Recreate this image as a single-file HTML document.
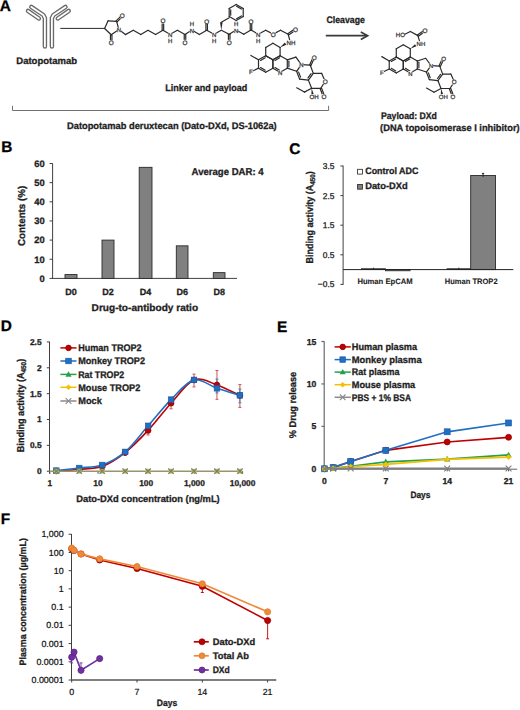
<!DOCTYPE html>
<html><head><meta charset="utf-8"><style>
html,body{margin:0;padding:0;background:#fff;}
svg{display:block;}
text{font-family:"Liberation Sans", sans-serif;text-rendering:geometricPrecision;}
</style></head><body>
<svg width="520" height="710" viewBox="0 0 520 710">
<rect width="520" height="710" fill="#fff"/>
<text x="-0.30" y="10.70" font-size="15.4" font-weight="bold" fill="#000" text-anchor="start" stroke="#000" stroke-width="0.3" >A</text>
<text x="1.20" y="152.10" font-size="15.4" font-weight="bold" fill="#000" text-anchor="start" stroke="#000" stroke-width="0.3" >B</text>
<text x="289.30" y="153.70" font-size="15.4" font-weight="bold" fill="#000" text-anchor="start" stroke="#000" stroke-width="0.3" >C</text>
<text x="0.80" y="331.30" font-size="15.4" font-weight="bold" fill="#000" text-anchor="start" stroke="#000" stroke-width="0.3" >D</text>
<text x="277.00" y="331.70" font-size="15.4" font-weight="bold" fill="#000" text-anchor="start" stroke="#000" stroke-width="0.3" >E</text>
<text x="0.80" y="523.80" font-size="15.4" font-weight="bold" fill="#000" text-anchor="start" stroke="#000" stroke-width="0.3" >F</text>
<path d="M31.30,6.90 L43.30,15.00 L44.90,18.00 L44.90,46.40" fill="none" stroke="#6a6a6a" stroke-width="4.5" stroke-linecap="round" stroke-linejoin="round"/>
<path d="M31.30,6.90 L43.30,15.00 L44.90,18.00 L44.90,46.40" fill="none" stroke="#fff" stroke-width="1.8" stroke-linecap="round" stroke-linejoin="round"/>
<path d="M65.50,6.90 L53.50,15.00 L51.90,18.00 L51.90,46.40" fill="none" stroke="#6a6a6a" stroke-width="4.5" stroke-linecap="round" stroke-linejoin="round"/>
<path d="M65.50,6.90 L53.50,15.00 L51.90,18.00 L51.90,46.40" fill="none" stroke="#fff" stroke-width="1.8" stroke-linecap="round" stroke-linejoin="round"/>
<path d="M28.00,10.90 L38.90,18.50" fill="none" stroke="#6a6a6a" stroke-width="4.5" stroke-linecap="round" stroke-linejoin="round"/>
<path d="M28.00,10.90 L38.90,18.50" fill="none" stroke="#fff" stroke-width="1.8" stroke-linecap="round" stroke-linejoin="round"/>
<path d="M68.70,10.90 L57.80,18.50" fill="none" stroke="#6a6a6a" stroke-width="4.5" stroke-linecap="round" stroke-linejoin="round"/>
<path d="M68.70,10.90 L57.80,18.50" fill="none" stroke="#fff" stroke-width="1.8" stroke-linecap="round" stroke-linejoin="round"/>
<line x1="60.30" y1="28.40" x2="104.60" y2="28.40" stroke="#2a2a2a" stroke-width="1.0" />
<line x1="104.60" y1="28.50" x2="108.10" y2="20.80" stroke="#2a2a2a" stroke-width="1.2" stroke-linecap="round"/>
<line x1="108.10" y1="20.80" x2="116.60" y2="21.40" stroke="#2a2a2a" stroke-width="1.2" stroke-linecap="round"/>
<line x1="116.60" y1="21.40" x2="118.90" y2="29.60" stroke="#2a2a2a" stroke-width="1.2" stroke-linecap="round"/>
<line x1="118.90" y1="29.60" x2="111.20" y2="34.80" stroke="#2a2a2a" stroke-width="1.2" stroke-linecap="round"/>
<line x1="111.20" y1="34.80" x2="104.60" y2="28.50" stroke="#2a2a2a" stroke-width="1.2" stroke-linecap="round"/>
<line x1="117.12" y1="21.94" x2="122.02" y2="17.14" stroke="#2a2a2a" stroke-width="1.2" stroke-linecap="round"/>
<line x1="116.08" y1="20.86" x2="120.98" y2="16.06" stroke="#2a2a2a" stroke-width="1.2" stroke-linecap="round"/>
<line x1="110.45" y1="34.80" x2="110.45" y2="40.80" stroke="#2a2a2a" stroke-width="1.2" stroke-linecap="round"/>
<line x1="111.95" y1="34.80" x2="111.95" y2="40.80" stroke="#2a2a2a" stroke-width="1.2" stroke-linecap="round"/>
<line x1="118.90" y1="29.60" x2="125.40" y2="34.60" stroke="#2a2a2a" stroke-width="1.2" stroke-linecap="round"/>
<line x1="125.40" y1="34.60" x2="133.30" y2="30.30" stroke="#2a2a2a" stroke-width="1.2" stroke-linecap="round"/>
<line x1="133.30" y1="30.30" x2="140.80" y2="34.50" stroke="#2a2a2a" stroke-width="1.2" stroke-linecap="round"/>
<line x1="140.80" y1="34.50" x2="148.00" y2="30.30" stroke="#2a2a2a" stroke-width="1.2" stroke-linecap="round"/>
<line x1="148.00" y1="30.30" x2="155.60" y2="34.50" stroke="#2a2a2a" stroke-width="1.2" stroke-linecap="round"/>
<line x1="155.60" y1="34.50" x2="162.90" y2="30.30" stroke="#2a2a2a" stroke-width="1.2" stroke-linecap="round"/>
<line x1="162.90" y1="30.30" x2="170.10" y2="34.30" stroke="#2a2a2a" stroke-width="1.2" stroke-linecap="round"/>
<line x1="170.10" y1="34.30" x2="177.40" y2="30.30" stroke="#2a2a2a" stroke-width="1.2" stroke-linecap="round"/>
<line x1="177.40" y1="30.30" x2="185.00" y2="34.50" stroke="#2a2a2a" stroke-width="1.2" stroke-linecap="round"/>
<line x1="185.00" y1="34.50" x2="191.80" y2="30.00" stroke="#2a2a2a" stroke-width="1.2" stroke-linecap="round"/>
<line x1="191.80" y1="30.00" x2="199.40" y2="34.50" stroke="#2a2a2a" stroke-width="1.2" stroke-linecap="round"/>
<line x1="199.40" y1="34.50" x2="206.70" y2="30.30" stroke="#2a2a2a" stroke-width="1.2" stroke-linecap="round"/>
<line x1="206.70" y1="30.30" x2="214.10" y2="34.20" stroke="#2a2a2a" stroke-width="1.2" stroke-linecap="round"/>
<line x1="214.10" y1="34.20" x2="221.30" y2="30.30" stroke="#2a2a2a" stroke-width="1.2" stroke-linecap="round"/>
<line x1="221.30" y1="30.30" x2="229.20" y2="34.30" stroke="#2a2a2a" stroke-width="1.2" stroke-linecap="round"/>
<line x1="229.20" y1="34.30" x2="236.10" y2="30.00" stroke="#2a2a2a" stroke-width="1.2" stroke-linecap="round"/>
<line x1="236.10" y1="30.00" x2="243.70" y2="34.30" stroke="#2a2a2a" stroke-width="1.2" stroke-linecap="round"/>
<line x1="243.70" y1="34.30" x2="251.00" y2="30.00" stroke="#2a2a2a" stroke-width="1.2" stroke-linecap="round"/>
<line x1="251.00" y1="30.00" x2="258.20" y2="34.20" stroke="#2a2a2a" stroke-width="1.2" stroke-linecap="round"/>
<line x1="258.20" y1="34.20" x2="265.70" y2="30.20" stroke="#2a2a2a" stroke-width="1.2" stroke-linecap="round"/>
<line x1="265.70" y1="30.20" x2="273.20" y2="34.10" stroke="#2a2a2a" stroke-width="1.2" stroke-linecap="round"/>
<line x1="273.20" y1="34.10" x2="280.50" y2="30.20" stroke="#2a2a2a" stroke-width="1.2" stroke-linecap="round"/>
<line x1="280.50" y1="30.20" x2="288.20" y2="34.30" stroke="#2a2a2a" stroke-width="1.2" stroke-linecap="round"/>
<line x1="163.65" y1="30.30" x2="163.65" y2="22.40" stroke="#2a2a2a" stroke-width="1.2" stroke-linecap="round"/>
<line x1="162.15" y1="30.30" x2="162.15" y2="22.40" stroke="#2a2a2a" stroke-width="1.2" stroke-linecap="round"/>
<rect x="160.63" y="18.64" width="4.53" height="4.95" fill="#fff"/>
<text x="162.90" y="23.40" font-size="6.34" fill="#333333" text-anchor="middle" stroke="#333333" stroke-width="0.25">O</text>
<line x1="184.25" y1="34.50" x2="184.25" y2="40.60" stroke="#2a2a2a" stroke-width="1.2" stroke-linecap="round"/>
<line x1="185.75" y1="34.50" x2="185.75" y2="40.60" stroke="#2a2a2a" stroke-width="1.2" stroke-linecap="round"/>
<rect x="182.73" y="39.84" width="4.53" height="4.95" fill="#fff"/>
<text x="185.00" y="44.60" font-size="6.34" fill="#333333" text-anchor="middle" stroke="#333333" stroke-width="0.25">O</text>
<line x1="207.45" y1="30.30" x2="207.45" y2="22.80" stroke="#2a2a2a" stroke-width="1.2" stroke-linecap="round"/>
<line x1="205.95" y1="30.30" x2="205.95" y2="22.80" stroke="#2a2a2a" stroke-width="1.2" stroke-linecap="round"/>
<rect x="204.43" y="19.05" width="4.53" height="4.95" fill="#fff"/>
<text x="206.70" y="23.80" font-size="6.34" fill="#333333" text-anchor="middle" stroke="#333333" stroke-width="0.25">O</text>
<line x1="228.45" y1="34.30" x2="228.45" y2="40.60" stroke="#2a2a2a" stroke-width="1.2" stroke-linecap="round"/>
<line x1="229.95" y1="34.30" x2="229.95" y2="40.60" stroke="#2a2a2a" stroke-width="1.2" stroke-linecap="round"/>
<rect x="226.93" y="39.84" width="4.53" height="4.95" fill="#fff"/>
<text x="229.20" y="44.60" font-size="6.34" fill="#333333" text-anchor="middle" stroke="#333333" stroke-width="0.25">O</text>
<line x1="251.75" y1="30.00" x2="251.75" y2="22.60" stroke="#2a2a2a" stroke-width="1.2" stroke-linecap="round"/>
<line x1="250.25" y1="30.00" x2="250.25" y2="22.60" stroke="#2a2a2a" stroke-width="1.2" stroke-linecap="round"/>
<rect x="248.73" y="18.85" width="4.53" height="4.95" fill="#fff"/>
<text x="251.00" y="23.60" font-size="6.34" fill="#333333" text-anchor="middle" stroke="#333333" stroke-width="0.25">O</text>
<line x1="288.62" y1="34.92" x2="294.42" y2="31.02" stroke="#2a2a2a" stroke-width="1.2" stroke-linecap="round"/>
<line x1="287.78" y1="33.68" x2="293.58" y2="29.78" stroke="#2a2a2a" stroke-width="1.2" stroke-linecap="round"/>
<rect x="293.23" y="27.45" width="4.53" height="4.95" fill="#fff"/>
<text x="295.50" y="32.20" font-size="6.34" fill="#333333" text-anchor="middle" stroke="#333333" stroke-width="0.25">O</text>
<line x1="288.20" y1="34.30" x2="289.60" y2="39.60" stroke="#2a2a2a" stroke-width="1.2" stroke-linecap="round"/>
<rect x="120.03" y="13.45" width="4.53" height="4.95" fill="#fff"/>
<text x="122.30" y="18.20" font-size="6.34" fill="#333333" text-anchor="middle" stroke="#333333" stroke-width="0.25">O</text>
<rect x="109.03" y="40.24" width="4.53" height="4.95" fill="#fff"/>
<text x="111.30" y="45.00" font-size="6.34" fill="#333333" text-anchor="middle" stroke="#333333" stroke-width="0.25">O</text>
<rect x="116.85" y="27.62" width="4.31" height="4.66" fill="#fff"/>
<text x="119.00" y="32.10" font-size="5.98" fill="#333333" text-anchor="middle" stroke="#333333" stroke-width="0.25">N</text>
<rect x="167.95" y="32.31" width="4.31" height="4.66" fill="#fff"/>
<text x="170.10" y="36.80" font-size="5.98" fill="#333333" text-anchor="middle" stroke="#333333" stroke-width="0.25">N</text>
<rect x="167.95" y="38.31" width="4.31" height="4.66" fill="#fff"/>
<text x="170.10" y="42.80" font-size="5.98" fill="#333333" text-anchor="middle" stroke="#333333" stroke-width="0.25">H</text>
<rect x="189.65" y="28.02" width="4.31" height="4.66" fill="#fff"/>
<text x="191.80" y="32.50" font-size="5.98" fill="#333333" text-anchor="middle" stroke="#333333" stroke-width="0.25">N</text>
<rect x="189.65" y="21.52" width="4.31" height="4.66" fill="#fff"/>
<text x="191.80" y="26.00" font-size="5.98" fill="#333333" text-anchor="middle" stroke="#333333" stroke-width="0.25">H</text>
<rect x="211.95" y="32.22" width="4.31" height="4.66" fill="#fff"/>
<text x="214.10" y="36.70" font-size="5.98" fill="#333333" text-anchor="middle" stroke="#333333" stroke-width="0.25">N</text>
<rect x="211.95" y="38.22" width="4.31" height="4.66" fill="#fff"/>
<text x="214.10" y="42.70" font-size="5.98" fill="#333333" text-anchor="middle" stroke="#333333" stroke-width="0.25">H</text>
<rect x="233.95" y="28.02" width="4.31" height="4.66" fill="#fff"/>
<text x="236.10" y="32.50" font-size="5.98" fill="#333333" text-anchor="middle" stroke="#333333" stroke-width="0.25">N</text>
<rect x="233.95" y="21.52" width="4.31" height="4.66" fill="#fff"/>
<text x="236.10" y="26.00" font-size="5.98" fill="#333333" text-anchor="middle" stroke="#333333" stroke-width="0.25">H</text>
<rect x="256.05" y="32.22" width="4.31" height="4.66" fill="#fff"/>
<text x="258.20" y="36.70" font-size="5.98" fill="#333333" text-anchor="middle" stroke="#333333" stroke-width="0.25">N</text>
<rect x="256.05" y="38.22" width="4.31" height="4.66" fill="#fff"/>
<text x="258.20" y="42.70" font-size="5.98" fill="#333333" text-anchor="middle" stroke="#333333" stroke-width="0.25">H</text>
<rect x="270.93" y="31.84" width="4.53" height="4.95" fill="#fff"/>
<text x="273.20" y="36.60" font-size="6.34" fill="#333333" text-anchor="middle" stroke="#333333" stroke-width="0.25">O</text>
<polygon points="221.30,30.30 222.60,22.20 220.00,22.20" fill="#2a2a2a"/>
<line x1="221.30" y1="22.20" x2="229.20" y2="17.80" stroke="#2a2a2a" stroke-width="1.2" stroke-linecap="round"/>
<line x1="229.19" y1="16.55" x2="229.19" y2="8.45" stroke="#2a2a2a" stroke-width="1.2" stroke-linecap="round"/>
<line x1="229.19" y1="8.45" x2="236.20" y2="4.40" stroke="#2a2a2a" stroke-width="1.2" stroke-linecap="round"/>
<line x1="236.20" y1="4.40" x2="243.21" y2="8.45" stroke="#2a2a2a" stroke-width="1.2" stroke-linecap="round"/>
<line x1="243.21" y1="8.45" x2="243.21" y2="16.55" stroke="#2a2a2a" stroke-width="1.2" stroke-linecap="round"/>
<line x1="243.21" y1="16.55" x2="236.20" y2="20.60" stroke="#2a2a2a" stroke-width="1.2" stroke-linecap="round"/>
<line x1="236.20" y1="20.60" x2="229.19" y2="16.55" stroke="#2a2a2a" stroke-width="1.2" stroke-linecap="round"/>
<line x1="230.69" y1="15.25" x2="230.69" y2="9.75" stroke="#2a2a2a" stroke-width="1.2" stroke-linecap="round"/>
<line x1="236.58" y1="6.35" x2="241.34" y2="9.10" stroke="#2a2a2a" stroke-width="1.2" stroke-linecap="round"/>
<line x1="241.34" y1="15.90" x2="236.58" y2="18.65" stroke="#2a2a2a" stroke-width="1.2" stroke-linecap="round"/>
<line x1="272.90" y1="43.25" x2="280.09" y2="47.40" stroke="#2a2a2a" stroke-width="1.2" stroke-linecap="round"/>
<line x1="280.09" y1="47.40" x2="280.09" y2="55.70" stroke="#2a2a2a" stroke-width="1.2" stroke-linecap="round"/>
<line x1="280.09" y1="55.70" x2="272.90" y2="59.85" stroke="#2a2a2a" stroke-width="1.2" stroke-linecap="round"/>
<line x1="272.90" y1="59.85" x2="265.71" y2="55.70" stroke="#2a2a2a" stroke-width="1.2" stroke-linecap="round"/>
<line x1="265.71" y1="55.70" x2="265.71" y2="47.40" stroke="#2a2a2a" stroke-width="1.2" stroke-linecap="round"/>
<line x1="265.71" y1="47.40" x2="272.90" y2="43.25" stroke="#2a2a2a" stroke-width="1.2" stroke-linecap="round"/>
<line x1="265.70" y1="55.70" x2="272.89" y2="59.85" stroke="#2a2a2a" stroke-width="1.2" stroke-linecap="round"/>
<line x1="272.89" y1="59.85" x2="272.89" y2="68.15" stroke="#2a2a2a" stroke-width="1.2" stroke-linecap="round"/>
<line x1="272.89" y1="68.15" x2="265.70" y2="72.30" stroke="#2a2a2a" stroke-width="1.2" stroke-linecap="round"/>
<line x1="265.70" y1="72.30" x2="258.51" y2="68.15" stroke="#2a2a2a" stroke-width="1.2" stroke-linecap="round"/>
<line x1="258.51" y1="68.15" x2="258.51" y2="59.85" stroke="#2a2a2a" stroke-width="1.2" stroke-linecap="round"/>
<line x1="258.51" y1="59.85" x2="265.70" y2="55.70" stroke="#2a2a2a" stroke-width="1.2" stroke-linecap="round"/>
<line x1="280.10" y1="55.70" x2="287.29" y2="59.85" stroke="#2a2a2a" stroke-width="1.2" stroke-linecap="round"/>
<line x1="287.29" y1="59.85" x2="287.29" y2="68.15" stroke="#2a2a2a" stroke-width="1.2" stroke-linecap="round"/>
<line x1="287.29" y1="68.15" x2="280.10" y2="72.30" stroke="#2a2a2a" stroke-width="1.2" stroke-linecap="round"/>
<line x1="280.10" y1="72.30" x2="272.91" y2="68.15" stroke="#2a2a2a" stroke-width="1.2" stroke-linecap="round"/>
<line x1="272.91" y1="68.15" x2="272.91" y2="59.85" stroke="#2a2a2a" stroke-width="1.2" stroke-linecap="round"/>
<line x1="272.91" y1="59.85" x2="280.10" y2="55.70" stroke="#2a2a2a" stroke-width="1.2" stroke-linecap="round"/>
<line x1="260.61" y1="60.49" x2="265.20" y2="57.84" stroke="#2a2a2a" stroke-width="1.2" stroke-linecap="round"/>
<line x1="265.20" y1="70.16" x2="260.61" y2="67.51" stroke="#2a2a2a" stroke-width="1.2" stroke-linecap="round"/>
<line x1="275.01" y1="60.49" x2="279.60" y2="57.84" stroke="#2a2a2a" stroke-width="1.2" stroke-linecap="round"/>
<line x1="279.60" y1="70.16" x2="275.01" y2="67.51" stroke="#2a2a2a" stroke-width="1.2" stroke-linecap="round"/>
<line x1="258.51" y1="59.85" x2="250.90" y2="55.40" stroke="#2a2a2a" stroke-width="1.2" stroke-linecap="round"/>
<line x1="258.51" y1="68.15" x2="253.20" y2="70.80" stroke="#2a2a2a" stroke-width="1.2" stroke-linecap="round"/>
<rect x="248.63" y="69.65" width="4.53" height="4.95" fill="#fff"/>
<text x="250.90" y="74.40" font-size="6.34" fill="#333333" text-anchor="middle" stroke="#333333" stroke-width="0.25">F</text>
<rect x="277.95" y="70.52" width="4.31" height="4.66" fill="#fff"/>
<text x="280.10" y="75.00" font-size="5.98" fill="#333333" text-anchor="middle" stroke="#333333" stroke-width="0.25">N</text>
<line x1="287.29" y1="59.85" x2="295.90" y2="57.10" stroke="#2a2a2a" stroke-width="1.2" stroke-linecap="round"/>
<line x1="295.90" y1="57.10" x2="301.40" y2="64.60" stroke="#2a2a2a" stroke-width="1.2" stroke-linecap="round"/>
<line x1="301.40" y1="64.60" x2="296.60" y2="71.30" stroke="#2a2a2a" stroke-width="1.2" stroke-linecap="round"/>
<line x1="296.60" y1="71.30" x2="287.29" y2="68.15" stroke="#2a2a2a" stroke-width="1.2" stroke-linecap="round"/>
<line x1="288.89" y1="61.15" x2="288.89" y2="66.85" stroke="#2a2a2a" stroke-width="1.2" stroke-linecap="round"/>
<line x1="301.40" y1="64.60" x2="310.30" y2="65.20" stroke="#2a2a2a" stroke-width="1.2" stroke-linecap="round"/>
<line x1="310.30" y1="65.20" x2="313.30" y2="73.40" stroke="#2a2a2a" stroke-width="1.2" stroke-linecap="round"/>
<line x1="313.30" y1="73.40" x2="308.40" y2="80.10" stroke="#2a2a2a" stroke-width="1.2" stroke-linecap="round"/>
<line x1="308.40" y1="80.10" x2="299.60" y2="79.10" stroke="#2a2a2a" stroke-width="1.2" stroke-linecap="round"/>
<line x1="299.60" y1="79.10" x2="296.60" y2="71.30" stroke="#2a2a2a" stroke-width="1.2" stroke-linecap="round"/>
<line x1="298.63" y1="72.13" x2="300.55" y2="77.13" stroke="#2a2a2a" stroke-width="1.2" stroke-linecap="round"/>
<line x1="311.12" y1="73.67" x2="307.99" y2="77.94" stroke="#2a2a2a" stroke-width="1.2" stroke-linecap="round"/>
<line x1="310.98" y1="65.51" x2="313.68" y2="59.61" stroke="#2a2a2a" stroke-width="1.2" stroke-linecap="round"/>
<line x1="309.62" y1="64.89" x2="312.32" y2="58.99" stroke="#2a2a2a" stroke-width="1.2" stroke-linecap="round"/>
<rect x="311.93" y="55.24" width="4.53" height="4.95" fill="#fff"/>
<text x="314.20" y="60.00" font-size="6.34" fill="#333333" text-anchor="middle" stroke="#333333" stroke-width="0.25">O</text>
<rect x="299.25" y="62.61" width="4.31" height="4.66" fill="#fff"/>
<text x="301.40" y="67.10" font-size="5.98" fill="#333333" text-anchor="middle" stroke="#333333" stroke-width="0.25">N</text>
<line x1="313.30" y1="73.40" x2="321.70" y2="73.40" stroke="#2a2a2a" stroke-width="1.2" stroke-linecap="round"/>
<line x1="321.70" y1="73.40" x2="325.20" y2="81.40" stroke="#2a2a2a" stroke-width="1.2" stroke-linecap="round"/>
<line x1="325.20" y1="81.40" x2="320.80" y2="88.30" stroke="#2a2a2a" stroke-width="1.2" stroke-linecap="round"/>
<line x1="320.80" y1="88.30" x2="311.60" y2="88.30" stroke="#2a2a2a" stroke-width="1.2" stroke-linecap="round"/>
<line x1="311.60" y1="88.30" x2="308.40" y2="80.10" stroke="#2a2a2a" stroke-width="1.2" stroke-linecap="round"/>
<rect x="322.93" y="79.15" width="4.53" height="4.95" fill="#fff"/>
<text x="325.20" y="83.90" font-size="6.34" fill="#333333" text-anchor="middle" stroke="#333333" stroke-width="0.25">O</text>
<line x1="320.10" y1="88.57" x2="322.30" y2="94.27" stroke="#2a2a2a" stroke-width="1.2" stroke-linecap="round"/>
<line x1="321.50" y1="88.03" x2="323.70" y2="93.73" stroke="#2a2a2a" stroke-width="1.2" stroke-linecap="round"/>
<rect x="321.63" y="94.05" width="4.53" height="4.95" fill="#fff"/>
<text x="323.90" y="98.80" font-size="6.34" fill="#333333" text-anchor="middle" stroke="#333333" stroke-width="0.25">O</text>
<line x1="311.60" y1="88.30" x2="304.40" y2="92.10" stroke="#2a2a2a" stroke-width="1.2" stroke-linecap="round"/>
<line x1="304.40" y1="92.10" x2="296.70" y2="87.80" stroke="#2a2a2a" stroke-width="1.2" stroke-linecap="round"/>
<polygon points="311.60,88.30 311.42,94.69 313.78,94.31" fill="#2a2a2a"/>
<rect x="309.88" y="94.08" width="8.24" height="4.80" fill="#fff"/>
<text x="314.00" y="98.70" font-size="6.16" fill="#333333" text-anchor="middle" stroke="#333333" stroke-width="0.25">OH</text>
<polygon points="280.09,47.40 286.34,44.67 284.86,42.53" fill="#2a2a2a"/>
<rect x="286.88" y="40.28" width="8.24" height="4.80" fill="#fff"/>
<text x="291.00" y="44.90" font-size="6.16" fill="#333333" text-anchor="middle" stroke="#333333" stroke-width="0.25">NH</text>
<g transform="matrix(0.975,0,0,0.97,137.2,2.886)">
<line x1="272.90" y1="43.25" x2="280.09" y2="47.40" stroke="#2a2a2a" stroke-width="1.2" stroke-linecap="round"/>
<line x1="280.09" y1="47.40" x2="280.09" y2="55.70" stroke="#2a2a2a" stroke-width="1.2" stroke-linecap="round"/>
<line x1="280.09" y1="55.70" x2="272.90" y2="59.85" stroke="#2a2a2a" stroke-width="1.2" stroke-linecap="round"/>
<line x1="272.90" y1="59.85" x2="265.71" y2="55.70" stroke="#2a2a2a" stroke-width="1.2" stroke-linecap="round"/>
<line x1="265.71" y1="55.70" x2="265.71" y2="47.40" stroke="#2a2a2a" stroke-width="1.2" stroke-linecap="round"/>
<line x1="265.71" y1="47.40" x2="272.90" y2="43.25" stroke="#2a2a2a" stroke-width="1.2" stroke-linecap="round"/>
<line x1="265.70" y1="55.70" x2="272.89" y2="59.85" stroke="#2a2a2a" stroke-width="1.2" stroke-linecap="round"/>
<line x1="272.89" y1="59.85" x2="272.89" y2="68.15" stroke="#2a2a2a" stroke-width="1.2" stroke-linecap="round"/>
<line x1="272.89" y1="68.15" x2="265.70" y2="72.30" stroke="#2a2a2a" stroke-width="1.2" stroke-linecap="round"/>
<line x1="265.70" y1="72.30" x2="258.51" y2="68.15" stroke="#2a2a2a" stroke-width="1.2" stroke-linecap="round"/>
<line x1="258.51" y1="68.15" x2="258.51" y2="59.85" stroke="#2a2a2a" stroke-width="1.2" stroke-linecap="round"/>
<line x1="258.51" y1="59.85" x2="265.70" y2="55.70" stroke="#2a2a2a" stroke-width="1.2" stroke-linecap="round"/>
<line x1="280.10" y1="55.70" x2="287.29" y2="59.85" stroke="#2a2a2a" stroke-width="1.2" stroke-linecap="round"/>
<line x1="287.29" y1="59.85" x2="287.29" y2="68.15" stroke="#2a2a2a" stroke-width="1.2" stroke-linecap="round"/>
<line x1="287.29" y1="68.15" x2="280.10" y2="72.30" stroke="#2a2a2a" stroke-width="1.2" stroke-linecap="round"/>
<line x1="280.10" y1="72.30" x2="272.91" y2="68.15" stroke="#2a2a2a" stroke-width="1.2" stroke-linecap="round"/>
<line x1="272.91" y1="68.15" x2="272.91" y2="59.85" stroke="#2a2a2a" stroke-width="1.2" stroke-linecap="round"/>
<line x1="272.91" y1="59.85" x2="280.10" y2="55.70" stroke="#2a2a2a" stroke-width="1.2" stroke-linecap="round"/>
<line x1="260.61" y1="60.49" x2="265.20" y2="57.84" stroke="#2a2a2a" stroke-width="1.2" stroke-linecap="round"/>
<line x1="265.20" y1="70.16" x2="260.61" y2="67.51" stroke="#2a2a2a" stroke-width="1.2" stroke-linecap="round"/>
<line x1="275.01" y1="60.49" x2="279.60" y2="57.84" stroke="#2a2a2a" stroke-width="1.2" stroke-linecap="round"/>
<line x1="279.60" y1="70.16" x2="275.01" y2="67.51" stroke="#2a2a2a" stroke-width="1.2" stroke-linecap="round"/>
<line x1="258.51" y1="59.85" x2="250.90" y2="55.40" stroke="#2a2a2a" stroke-width="1.2" stroke-linecap="round"/>
<line x1="258.51" y1="68.15" x2="253.20" y2="70.80" stroke="#2a2a2a" stroke-width="1.2" stroke-linecap="round"/>
<rect x="248.63" y="69.65" width="4.53" height="4.95" fill="#fff"/>
<text x="250.90" y="74.40" font-size="6.34" fill="#333333" text-anchor="middle" stroke="#333333" stroke-width="0.25">F</text>
<rect x="277.95" y="70.52" width="4.31" height="4.66" fill="#fff"/>
<text x="280.10" y="75.00" font-size="5.98" fill="#333333" text-anchor="middle" stroke="#333333" stroke-width="0.25">N</text>
<line x1="287.29" y1="59.85" x2="295.90" y2="57.10" stroke="#2a2a2a" stroke-width="1.2" stroke-linecap="round"/>
<line x1="295.90" y1="57.10" x2="301.40" y2="64.60" stroke="#2a2a2a" stroke-width="1.2" stroke-linecap="round"/>
<line x1="301.40" y1="64.60" x2="296.60" y2="71.30" stroke="#2a2a2a" stroke-width="1.2" stroke-linecap="round"/>
<line x1="296.60" y1="71.30" x2="287.29" y2="68.15" stroke="#2a2a2a" stroke-width="1.2" stroke-linecap="round"/>
<line x1="288.89" y1="61.15" x2="288.89" y2="66.85" stroke="#2a2a2a" stroke-width="1.2" stroke-linecap="round"/>
<line x1="301.40" y1="64.60" x2="310.30" y2="65.20" stroke="#2a2a2a" stroke-width="1.2" stroke-linecap="round"/>
<line x1="310.30" y1="65.20" x2="313.30" y2="73.40" stroke="#2a2a2a" stroke-width="1.2" stroke-linecap="round"/>
<line x1="313.30" y1="73.40" x2="308.40" y2="80.10" stroke="#2a2a2a" stroke-width="1.2" stroke-linecap="round"/>
<line x1="308.40" y1="80.10" x2="299.60" y2="79.10" stroke="#2a2a2a" stroke-width="1.2" stroke-linecap="round"/>
<line x1="299.60" y1="79.10" x2="296.60" y2="71.30" stroke="#2a2a2a" stroke-width="1.2" stroke-linecap="round"/>
<line x1="298.63" y1="72.13" x2="300.55" y2="77.13" stroke="#2a2a2a" stroke-width="1.2" stroke-linecap="round"/>
<line x1="311.12" y1="73.67" x2="307.99" y2="77.94" stroke="#2a2a2a" stroke-width="1.2" stroke-linecap="round"/>
<line x1="310.98" y1="65.51" x2="313.68" y2="59.61" stroke="#2a2a2a" stroke-width="1.2" stroke-linecap="round"/>
<line x1="309.62" y1="64.89" x2="312.32" y2="58.99" stroke="#2a2a2a" stroke-width="1.2" stroke-linecap="round"/>
<rect x="311.93" y="55.24" width="4.53" height="4.95" fill="#fff"/>
<text x="314.20" y="60.00" font-size="6.34" fill="#333333" text-anchor="middle" stroke="#333333" stroke-width="0.25">O</text>
<rect x="299.25" y="62.61" width="4.31" height="4.66" fill="#fff"/>
<text x="301.40" y="67.10" font-size="5.98" fill="#333333" text-anchor="middle" stroke="#333333" stroke-width="0.25">N</text>
<line x1="313.30" y1="73.40" x2="321.70" y2="73.40" stroke="#2a2a2a" stroke-width="1.2" stroke-linecap="round"/>
<line x1="321.70" y1="73.40" x2="325.20" y2="81.40" stroke="#2a2a2a" stroke-width="1.2" stroke-linecap="round"/>
<line x1="325.20" y1="81.40" x2="320.80" y2="88.30" stroke="#2a2a2a" stroke-width="1.2" stroke-linecap="round"/>
<line x1="320.80" y1="88.30" x2="311.60" y2="88.30" stroke="#2a2a2a" stroke-width="1.2" stroke-linecap="round"/>
<line x1="311.60" y1="88.30" x2="308.40" y2="80.10" stroke="#2a2a2a" stroke-width="1.2" stroke-linecap="round"/>
<rect x="322.93" y="79.15" width="4.53" height="4.95" fill="#fff"/>
<text x="325.20" y="83.90" font-size="6.34" fill="#333333" text-anchor="middle" stroke="#333333" stroke-width="0.25">O</text>
<line x1="320.10" y1="88.57" x2="322.30" y2="94.27" stroke="#2a2a2a" stroke-width="1.2" stroke-linecap="round"/>
<line x1="321.50" y1="88.03" x2="323.70" y2="93.73" stroke="#2a2a2a" stroke-width="1.2" stroke-linecap="round"/>
<rect x="321.63" y="94.05" width="4.53" height="4.95" fill="#fff"/>
<text x="323.90" y="98.80" font-size="6.34" fill="#333333" text-anchor="middle" stroke="#333333" stroke-width="0.25">O</text>
<line x1="311.60" y1="88.30" x2="304.40" y2="92.10" stroke="#2a2a2a" stroke-width="1.2" stroke-linecap="round"/>
<line x1="304.40" y1="92.10" x2="296.70" y2="87.80" stroke="#2a2a2a" stroke-width="1.2" stroke-linecap="round"/>
<polygon points="311.60,88.30 311.42,94.69 313.78,94.31" fill="#2a2a2a"/>
<rect x="309.88" y="94.08" width="8.24" height="4.80" fill="#fff"/>
<text x="314.00" y="98.70" font-size="6.16" fill="#333333" text-anchor="middle" stroke="#333333" stroke-width="0.25">OH</text>
<polygon points="280.09,47.40 286.34,44.67 284.86,42.53" fill="#2a2a2a"/>
<rect x="286.88" y="40.28" width="8.24" height="4.80" fill="#fff"/>
<text x="291.00" y="44.90" font-size="6.16" fill="#333333" text-anchor="middle" stroke="#333333" stroke-width="0.25">NH</text>
</g>
<line x1="410.40" y1="31.50" x2="417.90" y2="35.60" stroke="#2a2a2a" stroke-width="1.2" stroke-linecap="round"/>
<line x1="417.90" y1="35.60" x2="419.40" y2="40.60" stroke="#2a2a2a" stroke-width="1.2" stroke-linecap="round"/>
<line x1="418.34" y1="36.21" x2="423.64" y2="32.41" stroke="#2a2a2a" stroke-width="1.2" stroke-linecap="round"/>
<line x1="417.46" y1="34.99" x2="422.76" y2="31.19" stroke="#2a2a2a" stroke-width="1.2" stroke-linecap="round"/>
<line x1="404.80" y1="34.20" x2="410.40" y2="31.50" stroke="#2a2a2a" stroke-width="1.2" stroke-linecap="round"/>
<rect x="422.73" y="28.64" width="4.53" height="4.95" fill="#fff"/>
<text x="425.00" y="33.40" font-size="6.34" fill="#333333" text-anchor="middle" stroke="#333333" stroke-width="0.25">O</text>
<rect x="396.28" y="32.78" width="8.24" height="4.80" fill="#fff"/>
<text x="400.40" y="37.40" font-size="6.16" fill="#333333" text-anchor="middle" stroke="#333333" stroke-width="0.25">HO</text>
<line x1="325.80" y1="35.70" x2="367.20" y2="35.70" stroke="#3a3a3a" stroke-width="1.7" />
<polyline points="360.80,32.00 367.60,35.70 360.80,39.40" stroke="#3a3a3a" stroke-width="1.7" fill="none" stroke-linejoin="miter"/>
<text x="326.50" y="23.10" font-size="9.6" font-weight="bold" fill="#1e1e1e" text-anchor="start" stroke="#1e1e1e" stroke-width="0.3" textLength="38.40" lengthAdjust="spacingAndGlyphs" >Cleavage</text>
<text x="16.30" y="63.80" font-size="9.6" font-weight="bold" fill="#1e1e1e" text-anchor="start" stroke="#1e1e1e" stroke-width="0.3" textLength="60.70" lengthAdjust="spacingAndGlyphs" >Datopotamab</text>
<text x="165.20" y="90.70" font-size="9.6" font-weight="bold" fill="#1e1e1e" text-anchor="start" stroke="#1e1e1e" stroke-width="0.3" textLength="82.10" lengthAdjust="spacingAndGlyphs" >Linker and payload</text>
<text x="67.00" y="128.80" font-size="9.6" font-weight="bold" fill="#1e1e1e" text-anchor="start" stroke="#1e1e1e" stroke-width="0.3" textLength="209.70" lengthAdjust="spacingAndGlyphs" >Datopotamab deruxtecan (Dato-DXd, DS-1062a)</text>
<text x="381.00" y="118.80" font-size="9.6" font-weight="bold" fill="#1e1e1e" text-anchor="start" stroke="#1e1e1e" stroke-width="0.3" textLength="55.90" lengthAdjust="spacingAndGlyphs" >Payload: DXd</text>
<text x="380.10" y="131.20" font-size="9.6" font-weight="bold" fill="#1e1e1e" text-anchor="start" stroke="#1e1e1e" stroke-width="0.3" textLength="139.50" lengthAdjust="spacingAndGlyphs" >(DNA topoisomerase I inhibitor)</text>
<polyline points="12.50,105.80 12.50,110.50 328.60,110.50 328.60,105.80" stroke="#707070" stroke-width="1.0" fill="none" />
<line x1="52.60" y1="163.30" x2="52.60" y2="278.90" stroke="#404040" stroke-width="1.0" />
<line x1="52.10" y1="278.40" x2="237.00" y2="278.40" stroke="#404040" stroke-width="1.0" />
<line x1="49.60" y1="278.40" x2="52.60" y2="278.40" stroke="#404040" stroke-width="1.0" />
<text x="44.80" y="281.70" font-size="9.4" font-weight="bold" fill="#1e1e1e" text-anchor="end" stroke="#1e1e1e" stroke-width="0.3" >0</text>
<line x1="49.60" y1="259.25" x2="52.60" y2="259.25" stroke="#404040" stroke-width="1.0" />
<text x="44.80" y="262.55" font-size="9.4" font-weight="bold" fill="#1e1e1e" text-anchor="end" stroke="#1e1e1e" stroke-width="0.3" >10</text>
<line x1="49.60" y1="240.10" x2="52.60" y2="240.10" stroke="#404040" stroke-width="1.0" />
<text x="44.80" y="243.40" font-size="9.4" font-weight="bold" fill="#1e1e1e" text-anchor="end" stroke="#1e1e1e" stroke-width="0.3" >20</text>
<line x1="49.60" y1="220.95" x2="52.60" y2="220.95" stroke="#404040" stroke-width="1.0" />
<text x="44.80" y="224.25" font-size="9.4" font-weight="bold" fill="#1e1e1e" text-anchor="end" stroke="#1e1e1e" stroke-width="0.3" >30</text>
<line x1="49.60" y1="201.80" x2="52.60" y2="201.80" stroke="#404040" stroke-width="1.0" />
<text x="44.80" y="205.10" font-size="9.4" font-weight="bold" fill="#1e1e1e" text-anchor="end" stroke="#1e1e1e" stroke-width="0.3" >40</text>
<line x1="49.60" y1="182.65" x2="52.60" y2="182.65" stroke="#404040" stroke-width="1.0" />
<text x="44.80" y="185.95" font-size="9.4" font-weight="bold" fill="#1e1e1e" text-anchor="end" stroke="#1e1e1e" stroke-width="0.3" >50</text>
<line x1="49.60" y1="163.50" x2="52.60" y2="163.50" stroke="#404040" stroke-width="1.0" />
<text x="44.80" y="166.80" font-size="9.4" font-weight="bold" fill="#1e1e1e" text-anchor="end" stroke="#1e1e1e" stroke-width="0.3" >60</text>
<rect x="65.00" y="274.57" width="12.00" height="3.83" fill="#808080" stroke="#2a2a2a" stroke-width="0.9"/>
<text x="71.00" y="294.80" font-size="9.0" font-weight="bold" fill="#1e1e1e" text-anchor="middle" stroke="#1e1e1e" stroke-width="0.3" >D0</text>
<rect x="102.00" y="240.10" width="12.00" height="38.30" fill="#808080" stroke="#2a2a2a" stroke-width="0.9"/>
<text x="108.00" y="294.80" font-size="9.0" font-weight="bold" fill="#1e1e1e" text-anchor="middle" stroke="#1e1e1e" stroke-width="0.3" >D2</text>
<rect x="139.20" y="167.33" width="12.80" height="111.07" fill="#808080" stroke="#2a2a2a" stroke-width="0.9"/>
<text x="145.60" y="294.80" font-size="9.0" font-weight="bold" fill="#1e1e1e" text-anchor="middle" stroke="#1e1e1e" stroke-width="0.3" >D4</text>
<rect x="176.30" y="245.84" width="11.70" height="32.56" fill="#808080" stroke="#2a2a2a" stroke-width="0.9"/>
<text x="182.15" y="294.80" font-size="9.0" font-weight="bold" fill="#1e1e1e" text-anchor="middle" stroke="#1e1e1e" stroke-width="0.3" >D6</text>
<rect x="213.30" y="272.65" width="11.70" height="5.75" fill="#808080" stroke="#2a2a2a" stroke-width="0.9"/>
<text x="219.15" y="294.80" font-size="9.0" font-weight="bold" fill="#1e1e1e" text-anchor="middle" stroke="#1e1e1e" stroke-width="0.3" >D8</text>
<text x="91.60" y="310.50" font-size="10.0" font-weight="bold" fill="#1e1e1e" text-anchor="start" stroke="#1e1e1e" stroke-width="0.3" textLength="106.50" lengthAdjust="spacingAndGlyphs" >Drug-to-antibody ratio</text>
<text x="25.20" y="246.00" font-size="10.0" font-weight="bold" fill="#1e1e1e" text-anchor="start" stroke="#1e1e1e" stroke-width="0.3" textLength="60.20" lengthAdjust="spacingAndGlyphs" transform="rotate(-90 25.20 246.00)" >Contents (%)</text>
<text x="191.60" y="175.30" font-size="9.8" font-weight="bold" fill="#1e1e1e" text-anchor="start" stroke="#1e1e1e" stroke-width="0.3" textLength="72.00" lengthAdjust="spacingAndGlyphs" >Average DAR: 4</text>
<line x1="343.10" y1="165.60" x2="343.10" y2="284.90" stroke="#404040" stroke-width="1.0" />
<line x1="340.40" y1="166.00" x2="343.10" y2="166.00" stroke="#404040" stroke-width="1.0" />
<text x="334.40" y="169.00" font-size="8.4" font-weight="normal" fill="#111" text-anchor="end" stroke="#111" stroke-width="0.25">3.5</text>
<line x1="340.40" y1="195.60" x2="343.10" y2="195.60" stroke="#404040" stroke-width="1.0" />
<text x="334.40" y="198.60" font-size="8.4" font-weight="normal" fill="#111" text-anchor="end" stroke="#111" stroke-width="0.25">2.5</text>
<line x1="340.40" y1="225.20" x2="343.10" y2="225.20" stroke="#404040" stroke-width="1.0" />
<text x="334.40" y="228.20" font-size="8.4" font-weight="normal" fill="#111" text-anchor="end" stroke="#111" stroke-width="0.25">1.5</text>
<line x1="340.40" y1="254.80" x2="343.10" y2="254.80" stroke="#404040" stroke-width="1.0" />
<text x="334.40" y="257.80" font-size="8.4" font-weight="normal" fill="#111" text-anchor="end" stroke="#111" stroke-width="0.25">0.5</text>
<line x1="340.40" y1="284.40" x2="343.10" y2="284.40" stroke="#404040" stroke-width="1.0" />
<text x="334.40" y="287.40" font-size="8.4" font-weight="normal" fill="#111" text-anchor="end" stroke="#111" stroke-width="0.25">−0.5</text>
<rect x="361.50" y="268.71" width="23.90" height="0.89" fill="#fff" stroke="#222" stroke-width="0.8"/>
<rect x="385.40" y="269.60" width="24.60" height="1.18" fill="#808080" stroke="#222" stroke-width="0.8"/>
<rect x="447.00" y="268.71" width="23.70" height="0.89" fill="#fff" stroke="#222" stroke-width="0.8"/>
<rect x="470.70" y="175.47" width="24.80" height="94.13" fill="#808080" stroke="#2a2a2a" stroke-width="0.9"/>
<line x1="483.10" y1="173.40" x2="483.10" y2="177.00" stroke="#222" stroke-width="1.0" />
<line x1="482.00" y1="173.40" x2="484.20" y2="173.40" stroke="#222" stroke-width="1.0" />
<line x1="373.40" y1="267.60" x2="373.40" y2="270.00" stroke="#222" stroke-width="0.8" />
<line x1="458.80" y1="267.60" x2="458.80" y2="270.00" stroke="#222" stroke-width="0.8" />
<line x1="343.10" y1="269.60" x2="513.30" y2="269.60" stroke="#222" stroke-width="1.0" />
<rect x="357.60" y="169.30" width="4.80" height="4.80" fill="#fff" stroke="#222" stroke-width="0.8"/>
<rect x="357.60" y="184.40" width="4.80" height="4.80" fill="#808080" stroke="#222" stroke-width="0.8"/>
<text x="365.20" y="174.30" font-size="9.4" font-weight="bold" fill="#1e1e1e" text-anchor="start" stroke="#1e1e1e" stroke-width="0.3" textLength="53.30" lengthAdjust="spacingAndGlyphs" >Control ADC</text>
<text x="365.20" y="189.40" font-size="9.4" font-weight="bold" fill="#1e1e1e" text-anchor="start" stroke="#1e1e1e" stroke-width="0.3" textLength="42.50" lengthAdjust="spacingAndGlyphs" >Dato-DXd</text>
<text x="357.40" y="284.00" font-size="7.9" font-weight="bold" fill="#1e1e1e" text-anchor="start" stroke="#1e1e1e" stroke-width="0.1" textLength="55.20" lengthAdjust="spacingAndGlyphs" >Human EpCAM</text>
<text x="444.70" y="284.00" font-size="7.9" font-weight="bold" fill="#1e1e1e" text-anchor="start" stroke="#1e1e1e" stroke-width="0.1" textLength="52.90" lengthAdjust="spacingAndGlyphs" >Human TROP2</text>
<text x="313.2" y="263.4" font-size="10" font-weight="bold" fill="#1e1e1e" stroke="#1e1e1e" stroke-width="0.3" transform="rotate(-90 313.2 263.4)" textLength="92.2" lengthAdjust="spacingAndGlyphs">Binding activity (A<tspan font-size="7" dy="2">450</tspan><tspan dy="-2">)</tspan></text>
<line x1="49.50" y1="341.60" x2="49.50" y2="473.70" stroke="#404040" stroke-width="1.0" />
<line x1="46.80" y1="471.20" x2="49.50" y2="471.20" stroke="#404040" stroke-width="1.0" />
<text x="41.60" y="474.10" font-size="8.4" font-weight="bold" fill="#1e1e1e" text-anchor="end" stroke="#1e1e1e" stroke-width="0.3" >0</text>
<line x1="46.80" y1="445.35" x2="49.50" y2="445.35" stroke="#404040" stroke-width="1.0" />
<text x="41.60" y="448.25" font-size="8.4" font-weight="bold" fill="#1e1e1e" text-anchor="end" stroke="#1e1e1e" stroke-width="0.3" >0.5</text>
<line x1="46.80" y1="419.50" x2="49.50" y2="419.50" stroke="#404040" stroke-width="1.0" />
<text x="41.60" y="422.40" font-size="8.4" font-weight="bold" fill="#1e1e1e" text-anchor="end" stroke="#1e1e1e" stroke-width="0.3" >1</text>
<line x1="46.80" y1="393.65" x2="49.50" y2="393.65" stroke="#404040" stroke-width="1.0" />
<text x="41.60" y="396.55" font-size="8.4" font-weight="bold" fill="#1e1e1e" text-anchor="end" stroke="#1e1e1e" stroke-width="0.3" >1.5</text>
<line x1="46.80" y1="367.80" x2="49.50" y2="367.80" stroke="#404040" stroke-width="1.0" />
<text x="41.60" y="370.70" font-size="8.4" font-weight="bold" fill="#1e1e1e" text-anchor="end" stroke="#1e1e1e" stroke-width="0.3" >2</text>
<line x1="46.80" y1="341.95" x2="49.50" y2="341.95" stroke="#404040" stroke-width="1.0" />
<text x="41.60" y="344.85" font-size="8.4" font-weight="bold" fill="#1e1e1e" text-anchor="end" stroke="#1e1e1e" stroke-width="0.3" >2.5</text>
<line x1="49.80" y1="471.20" x2="49.80" y2="473.70" stroke="#404040" stroke-width="1.0" />
<text x="49.80" y="486.00" font-size="8.4" font-weight="bold" fill="#1e1e1e" text-anchor="middle" stroke="#1e1e1e" stroke-width="0.3" >1</text>
<line x1="98.00" y1="471.20" x2="98.00" y2="473.70" stroke="#404040" stroke-width="1.0" />
<text x="98.00" y="486.00" font-size="8.4" font-weight="bold" fill="#1e1e1e" text-anchor="middle" stroke="#1e1e1e" stroke-width="0.3" >10</text>
<line x1="146.20" y1="471.20" x2="146.20" y2="473.70" stroke="#404040" stroke-width="1.0" />
<text x="146.20" y="486.00" font-size="8.4" font-weight="bold" fill="#1e1e1e" text-anchor="middle" stroke="#1e1e1e" stroke-width="0.3" >100</text>
<line x1="194.40" y1="471.20" x2="194.40" y2="473.70" stroke="#404040" stroke-width="1.0" />
<text x="194.40" y="486.00" font-size="8.4" font-weight="bold" fill="#1e1e1e" text-anchor="middle" stroke="#1e1e1e" stroke-width="0.3" >1,000</text>
<line x1="242.60" y1="471.20" x2="242.60" y2="473.70" stroke="#404040" stroke-width="1.0" />
<text x="242.60" y="486.00" font-size="8.4" font-weight="bold" fill="#1e1e1e" text-anchor="middle" stroke="#1e1e1e" stroke-width="0.3" >10,000</text>
<text x="76.30" y="502.30" font-size="9.5" font-weight="bold" fill="#1e1e1e" text-anchor="start" stroke="#1e1e1e" stroke-width="0.3" textLength="143.40" lengthAdjust="spacingAndGlyphs" >Dato-DXd concentration (ng/mL)</text>
<text x="24.0" y="452.2" font-size="10" font-weight="bold" fill="#1e1e1e" stroke="#1e1e1e" stroke-width="0.3" transform="rotate(-90 24.0 452.2)" textLength="93.4" lengthAdjust="spacingAndGlyphs">Binding activity (A<tspan font-size="7" dy="2">450</tspan><tspan dy="-2">)</tspan></text>
<line x1="194.00" y1="374.10" x2="194.00" y2="386.90" stroke="#d04040" stroke-width="0.9" />
<line x1="192.50" y1="374.10" x2="195.50" y2="374.10" stroke="#d04040" stroke-width="0.9" />
<line x1="192.50" y1="386.90" x2="195.50" y2="386.90" stroke="#d04040" stroke-width="0.9" />
<line x1="216.95" y1="370.50" x2="216.95" y2="399.30" stroke="#d04040" stroke-width="0.9" />
<line x1="215.45" y1="370.50" x2="218.45" y2="370.50" stroke="#d04040" stroke-width="0.9" />
<line x1="215.45" y1="399.30" x2="218.45" y2="399.30" stroke="#d04040" stroke-width="0.9" />
<line x1="239.90" y1="384.60" x2="239.90" y2="407.40" stroke="#d04040" stroke-width="0.9" />
<line x1="238.40" y1="384.60" x2="241.40" y2="384.60" stroke="#d04040" stroke-width="0.9" />
<line x1="238.40" y1="407.40" x2="241.40" y2="407.40" stroke="#d04040" stroke-width="0.9" />
<line x1="171.05" y1="398.00" x2="171.05" y2="408.80" stroke="#d04040" stroke-width="0.9" />
<line x1="169.55" y1="398.00" x2="172.55" y2="398.00" stroke="#d04040" stroke-width="0.9" />
<line x1="169.55" y1="408.80" x2="172.55" y2="408.80" stroke="#d04040" stroke-width="0.9" />
<line x1="148.10" y1="426.00" x2="148.10" y2="435.00" stroke="#d04040" stroke-width="0.9" />
<line x1="146.60" y1="426.00" x2="149.60" y2="426.00" stroke="#d04040" stroke-width="0.9" />
<line x1="146.60" y1="435.00" x2="149.60" y2="435.00" stroke="#d04040" stroke-width="0.9" />
<line x1="125.15" y1="450.00" x2="125.15" y2="455.50" stroke="#d04040" stroke-width="0.9" />
<line x1="123.65" y1="450.00" x2="126.65" y2="450.00" stroke="#d04040" stroke-width="0.9" />
<line x1="123.65" y1="455.50" x2="126.65" y2="455.50" stroke="#d04040" stroke-width="0.9" />
<line x1="216.95" y1="379.00" x2="216.95" y2="393.00" stroke="#4a7ab0" stroke-width="0.9" />
<line x1="215.45" y1="379.00" x2="218.45" y2="379.00" stroke="#4a7ab0" stroke-width="0.9" />
<line x1="215.45" y1="393.00" x2="218.45" y2="393.00" stroke="#4a7ab0" stroke-width="0.9" />
<line x1="239.90" y1="389.00" x2="239.90" y2="402.80" stroke="#4a7ab0" stroke-width="0.9" />
<line x1="238.40" y1="389.00" x2="241.40" y2="389.00" stroke="#4a7ab0" stroke-width="0.9" />
<line x1="238.40" y1="402.80" x2="241.40" y2="402.80" stroke="#4a7ab0" stroke-width="0.9" />
<path d="M56.30,471.00 C60.12,470.72 71.60,470.08 79.25,469.30 C86.90,468.52 94.55,469.10 102.20,466.30 C109.85,463.50 117.50,458.48 125.15,452.50 C132.80,446.52 140.45,438.62 148.10,430.40 C155.75,422.18 163.40,411.60 171.05,403.20 C178.70,394.80 186.35,383.05 194.00,380.00 C201.65,376.95 209.30,382.32 216.95,384.90 C224.60,387.48 236.07,393.73 239.90,395.50" fill="none" stroke="#C00000" stroke-width="1.6"/>
<path d="M56.30,470.60 C60.12,470.17 71.60,468.93 79.25,468.00 C86.90,467.07 94.55,467.68 102.20,465.00 C109.85,462.32 117.50,458.43 125.15,451.90 C132.80,445.37 140.45,434.52 148.10,425.80 C155.75,417.08 163.40,407.25 171.05,399.60 C178.70,391.95 186.35,381.78 194.00,379.90 C201.65,378.02 209.30,385.73 216.95,388.30 C224.60,390.87 236.07,394.13 239.90,395.30" fill="none" stroke="#1F6FC5" stroke-width="1.6"/>
<circle cx="56.30" cy="471.00" r="2.9" fill="#C00000" stroke="#8a0000" stroke-width="0.7"/>
<circle cx="79.25" cy="469.30" r="2.9" fill="#C00000" stroke="#8a0000" stroke-width="0.7"/>
<circle cx="102.20" cy="466.30" r="2.9" fill="#C00000" stroke="#8a0000" stroke-width="0.7"/>
<circle cx="125.15" cy="452.50" r="2.9" fill="#C00000" stroke="#8a0000" stroke-width="0.7"/>
<circle cx="148.10" cy="430.40" r="2.9" fill="#C00000" stroke="#8a0000" stroke-width="0.7"/>
<circle cx="171.05" cy="403.20" r="2.9" fill="#C00000" stroke="#8a0000" stroke-width="0.7"/>
<circle cx="194.00" cy="380.00" r="2.9" fill="#C00000" stroke="#8a0000" stroke-width="0.7"/>
<circle cx="216.95" cy="384.90" r="2.9" fill="#C00000" stroke="#8a0000" stroke-width="0.7"/>
<circle cx="239.90" cy="395.50" r="2.9" fill="#C00000" stroke="#8a0000" stroke-width="0.7"/>
<rect x="53.50" y="467.80" width="5.60" height="5.60" fill="#1F6FC5" stroke="#1a5aa0" stroke-width="0.6"/>
<rect x="76.45" y="465.20" width="5.60" height="5.60" fill="#1F6FC5" stroke="#1a5aa0" stroke-width="0.6"/>
<rect x="99.40" y="462.20" width="5.60" height="5.60" fill="#1F6FC5" stroke="#1a5aa0" stroke-width="0.6"/>
<rect x="122.35" y="449.10" width="5.60" height="5.60" fill="#1F6FC5" stroke="#1a5aa0" stroke-width="0.6"/>
<rect x="145.30" y="423.00" width="5.60" height="5.60" fill="#1F6FC5" stroke="#1a5aa0" stroke-width="0.6"/>
<rect x="168.25" y="396.80" width="5.60" height="5.60" fill="#1F6FC5" stroke="#1a5aa0" stroke-width="0.6"/>
<rect x="191.20" y="377.10" width="5.60" height="5.60" fill="#1F6FC5" stroke="#1a5aa0" stroke-width="0.6"/>
<rect x="214.15" y="385.50" width="5.60" height="5.60" fill="#1F6FC5" stroke="#1a5aa0" stroke-width="0.6"/>
<rect x="237.10" y="392.50" width="5.60" height="5.60" fill="#1F6FC5" stroke="#1a5aa0" stroke-width="0.6"/>
<line x1="49.50" y1="471.20" x2="239.90" y2="471.20" stroke="#959570" stroke-width="1.6" />
<rect x="53.90" y="468.80" width="4.8" height="4.8" fill="#b4b86a"/>
<path d="M53.60,468.50 L59.00,473.90 M53.60,473.90 L59.00,468.50" stroke="#80805a" stroke-width="1.1"/>
<rect x="76.85" y="468.80" width="4.8" height="4.8" fill="#b4b86a"/>
<path d="M76.55,468.50 L81.95,473.90 M76.55,473.90 L81.95,468.50" stroke="#80805a" stroke-width="1.1"/>
<rect x="99.80" y="468.80" width="4.8" height="4.8" fill="#b4b86a"/>
<path d="M99.50,468.50 L104.90,473.90 M99.50,473.90 L104.90,468.50" stroke="#80805a" stroke-width="1.1"/>
<rect x="122.75" y="468.80" width="4.8" height="4.8" fill="#b4b86a"/>
<path d="M122.45,468.50 L127.85,473.90 M122.45,473.90 L127.85,468.50" stroke="#80805a" stroke-width="1.1"/>
<rect x="145.70" y="468.80" width="4.8" height="4.8" fill="#b4b86a"/>
<path d="M145.40,468.50 L150.80,473.90 M145.40,473.90 L150.80,468.50" stroke="#80805a" stroke-width="1.1"/>
<rect x="168.65" y="468.80" width="4.8" height="4.8" fill="#b4b86a"/>
<path d="M168.35,468.50 L173.75,473.90 M168.35,473.90 L173.75,468.50" stroke="#80805a" stroke-width="1.1"/>
<rect x="191.60" y="468.80" width="4.8" height="4.8" fill="#b4b86a"/>
<path d="M191.30,468.50 L196.70,473.90 M191.30,473.90 L196.70,468.50" stroke="#80805a" stroke-width="1.1"/>
<rect x="214.55" y="468.80" width="4.8" height="4.8" fill="#b4b86a"/>
<path d="M214.25,468.50 L219.65,473.90 M214.25,473.90 L219.65,468.50" stroke="#80805a" stroke-width="1.1"/>
<rect x="237.50" y="468.80" width="4.8" height="4.8" fill="#b4b86a"/>
<path d="M237.20,468.50 L242.60,473.90 M237.20,473.90 L242.60,468.50" stroke="#80805a" stroke-width="1.1"/>
<line x1="60.40" y1="347.90" x2="76.50" y2="347.90" stroke="#C00000" stroke-width="1.5" />
<circle cx="68.50" cy="347.90" r="2.8" fill="#C00000" stroke="#8a0000" stroke-width="0.7"/>
<text x="78.20" y="351.30" font-size="9.6" font-weight="bold" fill="#1e1e1e" text-anchor="start" stroke="#1e1e1e" stroke-width="0.3" textLength="63.40" lengthAdjust="spacingAndGlyphs" >Human TROP2</text>
<line x1="60.40" y1="361.00" x2="76.50" y2="361.00" stroke="#1F6FC5" stroke-width="1.5" />
<rect x="65.70" y="358.20" width="5.60" height="5.60" fill="#1F6FC5" stroke="#1a5aa0" stroke-width="0.6"/>
<text x="78.20" y="364.40" font-size="9.6" font-weight="bold" fill="#1e1e1e" text-anchor="start" stroke="#1e1e1e" stroke-width="0.3" textLength="66.80" lengthAdjust="spacingAndGlyphs" >Monkey TROP2</text>
<line x1="60.40" y1="374.40" x2="76.50" y2="374.40" stroke="#27A04E" stroke-width="1.5" />
<polygon points="68.50,371.18 71.58,376.64 65.42,376.64" fill="#27A04E"/>
<text x="78.20" y="377.80" font-size="9.6" font-weight="bold" fill="#1e1e1e" text-anchor="start" stroke="#1e1e1e" stroke-width="0.3" textLength="46.10" lengthAdjust="spacingAndGlyphs" >Rat TROP2</text>
<line x1="60.40" y1="387.30" x2="76.50" y2="387.30" stroke="#F5C000" stroke-width="1.5" />
<polygon points="68.50,384.50 71.30,387.30 68.50,390.10 65.70,387.30" fill="#F5C000"/>
<text x="78.20" y="390.70" font-size="9.6" font-weight="bold" fill="#1e1e1e" text-anchor="start" stroke="#1e1e1e" stroke-width="0.3" textLength="62.10" lengthAdjust="spacingAndGlyphs" >Mouse TROP2</text>
<line x1="60.40" y1="401.00" x2="76.50" y2="401.00" stroke="#8a8a8a" stroke-width="1.5" />
<path d="M65.70,398.20 L71.30,403.80 M65.70,403.80 L71.30,398.20" stroke="#8a8a8a" stroke-width="1.1"/>
<text x="78.20" y="404.40" font-size="9.6" font-weight="bold" fill="#1e1e1e" text-anchor="start" stroke="#1e1e1e" stroke-width="0.3" textLength="23.60" lengthAdjust="spacingAndGlyphs" >Mock</text>
<line x1="324.20" y1="341.20" x2="324.20" y2="468.80" stroke="#6a6a6a" stroke-width="1.2" />
<line x1="321.40" y1="468.80" x2="324.20" y2="468.80" stroke="#6a6a6a" stroke-width="1.2" />
<text x="316.40" y="471.80" font-size="8.6" font-weight="bold" fill="#1e1e1e" text-anchor="end" stroke="#1e1e1e" stroke-width="0.3" >0</text>
<line x1="321.40" y1="426.37" x2="324.20" y2="426.37" stroke="#6a6a6a" stroke-width="1.2" />
<text x="316.40" y="429.37" font-size="8.6" font-weight="bold" fill="#1e1e1e" text-anchor="end" stroke="#1e1e1e" stroke-width="0.3" >5</text>
<line x1="321.40" y1="383.93" x2="324.20" y2="383.93" stroke="#6a6a6a" stroke-width="1.2" />
<text x="316.40" y="386.93" font-size="8.6" font-weight="bold" fill="#1e1e1e" text-anchor="end" stroke="#1e1e1e" stroke-width="0.3" >10</text>
<line x1="321.40" y1="341.50" x2="324.20" y2="341.50" stroke="#6a6a6a" stroke-width="1.2" />
<text x="316.40" y="344.50" font-size="8.6" font-weight="bold" fill="#1e1e1e" text-anchor="end" stroke="#1e1e1e" stroke-width="0.3" >15</text>
<line x1="324.40" y1="468.80" x2="324.40" y2="471.30" stroke="#404040" stroke-width="1.0" />
<text x="324.40" y="484.20" font-size="8.6" font-weight="bold" fill="#1e1e1e" text-anchor="middle" stroke="#1e1e1e" stroke-width="0.3" >0</text>
<line x1="385.79" y1="468.80" x2="385.79" y2="471.30" stroke="#404040" stroke-width="1.0" />
<text x="385.79" y="484.20" font-size="8.6" font-weight="bold" fill="#1e1e1e" text-anchor="middle" stroke="#1e1e1e" stroke-width="0.3" >7</text>
<line x1="447.18" y1="468.80" x2="447.18" y2="471.30" stroke="#404040" stroke-width="1.0" />
<text x="447.18" y="484.20" font-size="8.6" font-weight="bold" fill="#1e1e1e" text-anchor="middle" stroke="#1e1e1e" stroke-width="0.3" >14</text>
<line x1="508.57" y1="468.80" x2="508.57" y2="471.30" stroke="#404040" stroke-width="1.0" />
<text x="508.57" y="484.20" font-size="8.6" font-weight="bold" fill="#1e1e1e" text-anchor="middle" stroke="#1e1e1e" stroke-width="0.3" >21</text>
<text x="410.40" y="498.30" font-size="9.3" font-weight="bold" fill="#1e1e1e" text-anchor="start" stroke="#1e1e1e" stroke-width="0.3" textLength="20.00" lengthAdjust="spacingAndGlyphs" >Days</text>
<text x="296.50" y="438.20" font-size="9.7" font-weight="bold" fill="#1e1e1e" text-anchor="start" stroke="#1e1e1e" stroke-width="0.3" textLength="66.40" lengthAdjust="spacingAndGlyphs" transform="rotate(-90 296.50 438.20)" >% Drug release</text>
<line x1="324.20" y1="469.20" x2="517.20" y2="469.20" stroke="#606060" stroke-width="1.0" />
<polyline points="324.40,468.80 333.17,467.61 350.71,461.50 385.79,450.30 447.18,441.98 508.57,437.31" stroke="#C00000" stroke-width="1.7" fill="none" />
<circle cx="324.40" cy="468.80" r="3.0" fill="#C00000" stroke="#8a0000" stroke-width="0.7"/>
<circle cx="333.17" cy="467.61" r="3.0" fill="#C00000" stroke="#8a0000" stroke-width="0.7"/>
<circle cx="350.71" cy="461.50" r="3.0" fill="#C00000" stroke="#8a0000" stroke-width="0.7"/>
<circle cx="385.79" cy="450.30" r="3.0" fill="#C00000" stroke="#8a0000" stroke-width="0.7"/>
<circle cx="447.18" cy="441.98" r="3.0" fill="#C00000" stroke="#8a0000" stroke-width="0.7"/>
<circle cx="508.57" cy="437.31" r="3.0" fill="#C00000" stroke="#8a0000" stroke-width="0.7"/>
<polyline points="324.40,468.80 333.17,467.61 350.71,461.50 385.79,450.30 447.18,431.80 508.57,422.97" stroke="#1F6FC5" stroke-width="1.7" fill="none" />
<rect x="321.40" y="465.80" width="6.00" height="6.00" fill="#1F6FC5" stroke="#1a5aa0" stroke-width="0.6"/>
<rect x="330.17" y="464.61" width="6.00" height="6.00" fill="#1F6FC5" stroke="#1a5aa0" stroke-width="0.6"/>
<rect x="347.71" y="458.50" width="6.00" height="6.00" fill="#1F6FC5" stroke="#1a5aa0" stroke-width="0.6"/>
<rect x="382.79" y="447.30" width="6.00" height="6.00" fill="#1F6FC5" stroke="#1a5aa0" stroke-width="0.6"/>
<rect x="444.18" y="428.80" width="6.00" height="6.00" fill="#1F6FC5" stroke="#1a5aa0" stroke-width="0.6"/>
<rect x="505.57" y="419.97" width="6.00" height="6.00" fill="#1F6FC5" stroke="#1a5aa0" stroke-width="0.6"/>
<polyline points="324.40,468.80 333.17,468.38 350.71,466.25 385.79,461.93 447.18,459.12 508.57,454.97" stroke="#27A04E" stroke-width="1.7" fill="none" />
<polygon points="324.40,465.47 327.59,471.12 321.21,471.12" fill="#27A04E"/>
<polygon points="333.17,465.04 336.36,470.70 329.98,470.70" fill="#27A04E"/>
<polygon points="350.71,462.92 353.90,468.57 347.52,468.57" fill="#27A04E"/>
<polygon points="385.79,458.59 388.98,464.25 382.60,464.25" fill="#27A04E"/>
<polygon points="447.18,455.79 450.37,461.44 443.99,461.44" fill="#27A04E"/>
<polygon points="508.57,451.63 511.76,457.29 505.38,457.29" fill="#27A04E"/>
<polyline points="324.40,468.80 333.17,468.38 350.71,466.76 385.79,464.47 447.18,459.46 508.57,457.09" stroke="#F5C000" stroke-width="1.7" fill="none" />
<polygon points="324.40,465.90 327.30,468.80 324.40,471.70 321.50,468.80" fill="#F5C000"/>
<polygon points="333.17,465.48 336.07,468.38 333.17,471.28 330.27,468.38" fill="#F5C000"/>
<polygon points="350.71,463.86 353.61,466.76 350.71,469.66 347.81,466.76" fill="#F5C000"/>
<polygon points="385.79,461.57 388.69,464.47 385.79,467.37 382.89,464.47" fill="#F5C000"/>
<polygon points="447.18,456.56 450.08,459.46 447.18,462.36 444.28,459.46" fill="#F5C000"/>
<polygon points="508.57,454.19 511.47,457.09 508.57,459.99 505.67,457.09" fill="#F5C000"/>
<polyline points="324.40,468.80 333.17,468.63 350.71,468.46 385.79,468.46 447.18,468.46 508.57,468.46" stroke="#808080" stroke-width="1.7" fill="none" />
<path d="M321.50,465.90 L327.30,471.70 M321.50,471.70 L327.30,465.90" stroke="#808080" stroke-width="1.1"/>
<path d="M330.27,465.73 L336.07,471.53 M330.27,471.53 L336.07,465.73" stroke="#808080" stroke-width="1.1"/>
<path d="M347.81,465.56 L353.61,471.36 M347.81,471.36 L353.61,465.56" stroke="#808080" stroke-width="1.1"/>
<path d="M382.89,465.56 L388.69,471.36 M382.89,471.36 L388.69,465.56" stroke="#808080" stroke-width="1.1"/>
<path d="M444.28,465.56 L450.08,471.36 M444.28,471.36 L450.08,465.56" stroke="#808080" stroke-width="1.1"/>
<path d="M505.67,465.56 L511.47,471.36 M505.67,471.36 L511.47,465.56" stroke="#808080" stroke-width="1.1"/>
<line x1="334.60" y1="346.90" x2="350.80" y2="346.90" stroke="#C00000" stroke-width="1.5" />
<circle cx="342.70" cy="346.90" r="2.8" fill="#C00000" stroke="#8a0000" stroke-width="0.7"/>
<text x="351.80" y="350.10" font-size="9.6" font-weight="bold" fill="#1e1e1e" text-anchor="start" stroke="#1e1e1e" stroke-width="0.3" textLength="65.20" lengthAdjust="spacingAndGlyphs" >Human plasma</text>
<line x1="334.60" y1="359.60" x2="350.80" y2="359.60" stroke="#1F6FC5" stroke-width="1.5" />
<rect x="339.90" y="356.80" width="5.60" height="5.60" fill="#1F6FC5" stroke="#1a5aa0" stroke-width="0.6"/>
<text x="351.80" y="362.80" font-size="9.6" font-weight="bold" fill="#1e1e1e" text-anchor="start" stroke="#1e1e1e" stroke-width="0.3" textLength="69.80" lengthAdjust="spacingAndGlyphs" >Monkey plasma</text>
<line x1="334.60" y1="372.10" x2="350.80" y2="372.10" stroke="#27A04E" stroke-width="1.5" />
<polygon points="342.70,368.88 345.78,374.34 339.62,374.34" fill="#27A04E"/>
<text x="351.80" y="375.30" font-size="9.6" font-weight="bold" fill="#1e1e1e" text-anchor="start" stroke="#1e1e1e" stroke-width="0.3" textLength="47.70" lengthAdjust="spacingAndGlyphs" >Rat plasma</text>
<line x1="334.60" y1="384.70" x2="350.80" y2="384.70" stroke="#F5C000" stroke-width="1.5" />
<polygon points="342.70,381.90 345.50,384.70 342.70,387.50 339.90,384.70" fill="#F5C000"/>
<text x="351.80" y="387.90" font-size="9.6" font-weight="bold" fill="#1e1e1e" text-anchor="start" stroke="#1e1e1e" stroke-width="0.3" textLength="63.40" lengthAdjust="spacingAndGlyphs" >Mouse plasma</text>
<line x1="334.60" y1="397.30" x2="350.80" y2="397.30" stroke="#8a8a8a" stroke-width="1.5" />
<path d="M339.90,394.50 L345.50,400.10 M339.90,400.10 L345.50,394.50" stroke="#8a8a8a" stroke-width="1.1"/>
<text x="351.80" y="400.50" font-size="9.6" font-weight="bold" fill="#1e1e1e" text-anchor="start" stroke="#1e1e1e" stroke-width="0.3" textLength="59.20" lengthAdjust="spacingAndGlyphs" >PBS + 1% BSA</text>
<line x1="71.50" y1="534.00" x2="71.50" y2="680.00" stroke="#404040" stroke-width="1.0" />
<line x1="68.60" y1="534.24" x2="71.50" y2="534.24" stroke="#404040" stroke-width="1.0" />
<text x="63.60" y="537.34" font-size="8.9" font-weight="normal" fill="#111" text-anchor="end" stroke="#111" stroke-width="0.2">1,000</text>
<line x1="68.60" y1="552.46" x2="71.50" y2="552.46" stroke="#404040" stroke-width="1.0" />
<text x="63.60" y="555.56" font-size="8.9" font-weight="normal" fill="#111" text-anchor="end" stroke="#111" stroke-width="0.2">100</text>
<line x1="68.60" y1="570.68" x2="71.50" y2="570.68" stroke="#404040" stroke-width="1.0" />
<text x="63.60" y="573.78" font-size="8.9" font-weight="normal" fill="#111" text-anchor="end" stroke="#111" stroke-width="0.2">10</text>
<line x1="68.60" y1="588.90" x2="71.50" y2="588.90" stroke="#404040" stroke-width="1.0" />
<text x="63.60" y="592.00" font-size="8.9" font-weight="normal" fill="#111" text-anchor="end" stroke="#111" stroke-width="0.2">1</text>
<line x1="68.60" y1="607.12" x2="71.50" y2="607.12" stroke="#404040" stroke-width="1.0" />
<text x="63.60" y="610.22" font-size="8.9" font-weight="normal" fill="#111" text-anchor="end" stroke="#111" stroke-width="0.2">0.1</text>
<line x1="68.60" y1="625.34" x2="71.50" y2="625.34" stroke="#404040" stroke-width="1.0" />
<text x="63.60" y="628.44" font-size="8.9" font-weight="normal" fill="#111" text-anchor="end" stroke="#111" stroke-width="0.2">0.01</text>
<line x1="68.60" y1="643.56" x2="71.50" y2="643.56" stroke="#404040" stroke-width="1.0" />
<text x="63.60" y="646.66" font-size="8.9" font-weight="normal" fill="#111" text-anchor="end" stroke="#111" stroke-width="0.2">0.001</text>
<line x1="68.60" y1="661.78" x2="71.50" y2="661.78" stroke="#404040" stroke-width="1.0" />
<text x="63.60" y="664.88" font-size="8.9" font-weight="normal" fill="#111" text-anchor="end" stroke="#111" stroke-width="0.2">0.0001</text>
<line x1="68.60" y1="680.00" x2="71.50" y2="680.00" stroke="#404040" stroke-width="1.0" />
<text x="63.60" y="683.10" font-size="8.9" font-weight="normal" fill="#111" text-anchor="end" stroke="#111" stroke-width="0.2">0.00001</text>
<line x1="71.00" y1="680.00" x2="276.30" y2="680.00" stroke="#555" stroke-width="1.3" />
<line x1="71.70" y1="680.00" x2="71.70" y2="682.50" stroke="#404040" stroke-width="1.0" />
<text x="71.70" y="695.20" font-size="8.9" font-weight="normal" fill="#111" text-anchor="middle" stroke="#111" stroke-width="0.2">0</text>
<line x1="137.01" y1="680.00" x2="137.01" y2="682.50" stroke="#404040" stroke-width="1.0" />
<text x="137.01" y="695.20" font-size="8.9" font-weight="normal" fill="#111" text-anchor="middle" stroke="#111" stroke-width="0.2">7</text>
<line x1="202.32" y1="680.00" x2="202.32" y2="682.50" stroke="#404040" stroke-width="1.0" />
<text x="202.32" y="695.20" font-size="8.9" font-weight="normal" fill="#111" text-anchor="middle" stroke="#111" stroke-width="0.2">14</text>
<line x1="267.63" y1="680.00" x2="267.63" y2="682.50" stroke="#404040" stroke-width="1.0" />
<text x="267.63" y="695.20" font-size="8.9" font-weight="normal" fill="#111" text-anchor="middle" stroke="#111" stroke-width="0.2">21</text>
<text x="156.80" y="706.20" font-size="9.3" font-weight="bold" fill="#1e1e1e" text-anchor="start" stroke="#1e1e1e" stroke-width="0.3" textLength="20.40" lengthAdjust="spacingAndGlyphs" >Days</text>
<text x="25.60" y="665.50" font-size="9.3" font-weight="bold" fill="#1e1e1e" text-anchor="start" stroke="#1e1e1e" stroke-width="0.3" textLength="127.40" lengthAdjust="spacingAndGlyphs" transform="rotate(-90 25.60 665.50)" >Plasma concentration (µg/mL)</text>
<line x1="202.32" y1="586.30" x2="202.32" y2="592.50" stroke="#C00000" stroke-width="0.9" />
<line x1="200.82" y1="592.50" x2="203.82" y2="592.50" stroke="#C00000" stroke-width="0.9" />
<line x1="267.63" y1="620.50" x2="267.63" y2="638.80" stroke="#C00000" stroke-width="0.9" />
<line x1="266.13" y1="638.80" x2="269.13" y2="638.80" stroke="#C00000" stroke-width="0.9" />
<polyline points="71.70,548.80 74.03,550.50 81.03,554.00 99.69,560.00 137.01,568.50 202.32,586.30 267.63,620.50" stroke="#C00000" stroke-width="1.7" fill="none" />
<circle cx="71.70" cy="548.80" r="3.1" fill="#C00000" stroke="#8a0000" stroke-width="0.7"/>
<circle cx="74.03" cy="550.50" r="3.1" fill="#C00000" stroke="#8a0000" stroke-width="0.7"/>
<circle cx="81.03" cy="554.00" r="3.1" fill="#C00000" stroke="#8a0000" stroke-width="0.7"/>
<circle cx="99.69" cy="560.00" r="3.1" fill="#C00000" stroke="#8a0000" stroke-width="0.7"/>
<circle cx="137.01" cy="568.50" r="3.1" fill="#C00000" stroke="#8a0000" stroke-width="0.7"/>
<circle cx="202.32" cy="586.30" r="3.1" fill="#C00000" stroke="#8a0000" stroke-width="0.7"/>
<circle cx="267.63" cy="620.50" r="3.1" fill="#C00000" stroke="#8a0000" stroke-width="0.7"/>
<polyline points="71.70,548.00 74.03,550.30 81.03,554.00 99.69,558.80 137.01,566.50 202.32,583.80 267.63,611.80" stroke="#EE8A3A" stroke-width="1.7" fill="none" />
<circle cx="71.70" cy="548.00" r="3.1" fill="#EE8A3A" stroke="#e07a2a" stroke-width="0.7"/>
<circle cx="74.03" cy="550.30" r="3.1" fill="#EE8A3A" stroke="#e07a2a" stroke-width="0.7"/>
<circle cx="81.03" cy="554.00" r="3.1" fill="#EE8A3A" stroke="#e07a2a" stroke-width="0.7"/>
<circle cx="99.69" cy="558.80" r="3.1" fill="#EE8A3A" stroke="#e07a2a" stroke-width="0.7"/>
<circle cx="137.01" cy="566.50" r="3.1" fill="#EE8A3A" stroke="#e07a2a" stroke-width="0.7"/>
<circle cx="202.32" cy="583.80" r="3.1" fill="#EE8A3A" stroke="#e07a2a" stroke-width="0.7"/>
<circle cx="267.63" cy="611.80" r="3.1" fill="#EE8A3A" stroke="#e07a2a" stroke-width="0.7"/>
<line x1="81.03" y1="662.90" x2="81.03" y2="670.30" stroke="#7030A0" stroke-width="0.9" />
<line x1="79.53" y1="662.90" x2="82.53" y2="662.90" stroke="#7030A0" stroke-width="0.9" />
<line x1="71.70" y1="657.20" x2="71.70" y2="662.90" stroke="#7030A0" stroke-width="0.9" />
<line x1="70.20" y1="662.90" x2="73.20" y2="662.90" stroke="#7030A0" stroke-width="0.9" />
<polyline points="71.70,657.20 74.03,652.10 81.03,670.30 99.69,658.60" stroke="#7030A0" stroke-width="1.7" fill="none" />
<circle cx="71.70" cy="657.20" r="3.1" fill="#7030A0" stroke="#5a2080" stroke-width="0.7"/>
<circle cx="74.03" cy="652.10" r="3.1" fill="#7030A0" stroke="#5a2080" stroke-width="0.7"/>
<circle cx="81.03" cy="670.30" r="3.1" fill="#7030A0" stroke="#5a2080" stroke-width="0.7"/>
<circle cx="99.69" cy="658.60" r="3.1" fill="#7030A0" stroke="#5a2080" stroke-width="0.7"/>
<line x1="193.80" y1="641.80" x2="208.80" y2="641.80" stroke="#C00000" stroke-width="1.7" />
<circle cx="202.00" cy="641.80" r="3.0" fill="#C00000" stroke="#8a0000" stroke-width="0.7"/>
<text x="212.70" y="645.20" font-size="9.4" font-weight="bold" fill="#1e1e1e" text-anchor="start" stroke="#1e1e1e" stroke-width="0.3" textLength="42.60" lengthAdjust="spacingAndGlyphs" >Dato-DXd</text>
<line x1="193.80" y1="655.80" x2="208.80" y2="655.80" stroke="#EE8A3A" stroke-width="1.7" />
<circle cx="202.00" cy="655.80" r="3.0" fill="#EE8A3A" stroke="#e07a2a" stroke-width="0.7"/>
<text x="212.70" y="659.20" font-size="9.4" font-weight="bold" fill="#1e1e1e" text-anchor="start" stroke="#1e1e1e" stroke-width="0.3" textLength="36.30" lengthAdjust="spacingAndGlyphs" >Total Ab</text>
<line x1="193.80" y1="670.00" x2="208.80" y2="670.00" stroke="#7030A0" stroke-width="1.7" />
<circle cx="202.00" cy="670.00" r="3.0" fill="#7030A0" stroke="#5a2080" stroke-width="0.7"/>
<text x="212.70" y="673.40" font-size="9.4" font-weight="bold" fill="#1e1e1e" text-anchor="start" stroke="#1e1e1e" stroke-width="0.3" textLength="17.10" lengthAdjust="spacingAndGlyphs" >DXd</text>
</svg></body></html>
